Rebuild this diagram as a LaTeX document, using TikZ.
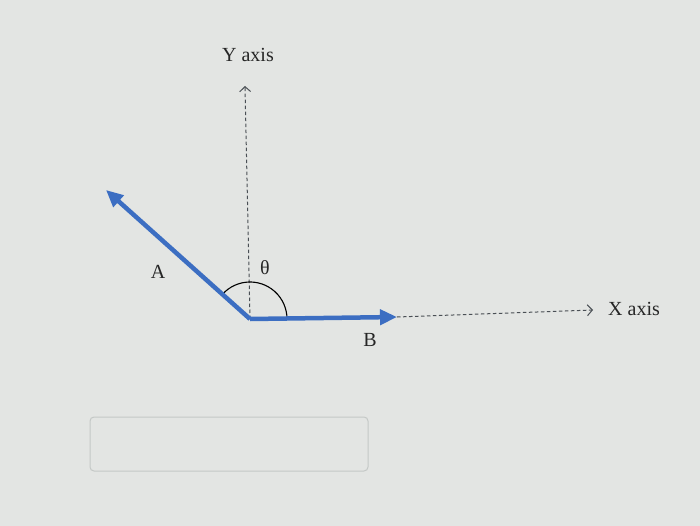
\documentclass[tikz,border=0pt]{standalone}
\usepackage{fontspec}
\setmainfont{Liberation Serif}
\usetikzlibrary{arrows.meta}
\definecolor{bg}{HTML}{E3E5E3}
\definecolor{vec}{HTML}{3C6EC2}
\definecolor{axis}{HTML}{4A4F55}
\definecolor{boxc}{HTML}{C4C8C6}
\tikzset{
  vector/.style={vec, line width=4.5pt, -{Triangle[length=17pt,width=15pt]}},
  axisline/.style={axis, line width=1pt, dash pattern=on 3.5pt off 2.5pt, -{Straight Barb[length=5pt,width=11pt,line width=1pt]}},
  lbl/.style={font=\fontsize{20}{24}\selectfont, text=black!85, inner sep=0pt},
}
\begin{document}
\begin{tikzpicture}[x=1pt,y=-1pt]
\fill[bg] (0,0) rectangle (700,526);
\useasboundingbox (0,0) rectangle (700,526);
\coordinate (O) at (250,319);
\coordinate (Ytip) at (245,86);
\coordinate (Atip) at (106,190);
\coordinate (Btip) at (397,317);
\coordinate (Xtip) at (593,310);
\draw[axisline] (O) -- (Ytip);
\draw[axisline] (Btip) -- (Xtip);
\draw[black, line width=1.1pt] ([shift={(-138:37)}]O) arc[start angle=-138, end angle=0, radius=37];
\draw[vector] (O) -- (Atip);
\draw[vector] (O) -- (Btip);
\node[lbl] (ylab) at (248,55) {Y axis};
\node[lbl] (xlab) at (634,309) {X axis};
\node[lbl] (alab) at (158,272) {A};
\node[lbl] (blab) at (370,340) {B};
\node[lbl] (th) at (265,268) {θ};
\node[draw=boxc, line width=1pt, rounded corners=4pt, minimum width=278pt, minimum height=54pt, inner sep=0pt] (box) at (229,444) {};
\end{tikzpicture}
\end{document}
